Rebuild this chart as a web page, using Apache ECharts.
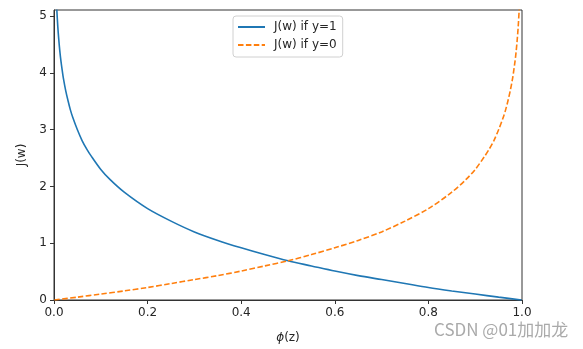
<!DOCTYPE html>
<html><head><meta charset="utf-8">
<script src="https://cdn.jsdelivr.net/npm/echarts@6/dist/echarts.min.js"></script>
<style>html,body{margin:0;padding:0;background:#fff}#c{width:583px;height:349px}</style>
</head><body><div id="c"></div>
<script>
// values
const xPos = [0.006,0.008,0.01,0.0125,0.015,0.0175,0.02,0.025,0.03,0.035,0.04,0.05,0.06,0.07,0.08,0.1,0.12,0.15,0.2,0.25,0.3,0.35,0.4,0.45,0.5,0.55,0.6,0.65,0.7,0.75,0.8,0.85,0.9,0.95,0.999];
const jPos = [5.12,4.83,4.61,4.38,4.20,4.05,3.91,3.69,3.51,3.35,3.22,3.00,2.81,2.66,2.53,2.30,2.12,1.90,1.61,1.39,1.20,1.05,0.92,0.80,0.69,0.60,0.51,0.43,0.36,0.29,0.22,0.16,0.105,0.05,0.001];
const xNeg = [0.001,0.05,0.1,0.15,0.2,0.25,0.3,0.35,0.4,0.45,0.5,0.55,0.6,0.65,0.7,0.75,0.8,0.85,0.88,0.9,0.92,0.93,0.94,0.95,0.96,0.965,0.97,0.975,0.98,0.9825,0.985,0.9875,0.99,0.992,0.994];
const jNeg = [0.001,0.05,0.105,0.16,0.22,0.29,0.36,0.43,0.51,0.60,0.69,0.80,0.92,1.05,1.20,1.39,1.61,1.90,2.12,2.30,2.53,2.66,2.81,3.00,3.22,3.35,3.51,3.69,3.91,4.05,4.20,4.38,4.61,4.83,5.12];
const seriesNames = ['J(w) if y=1','J(w) if y=0'];
const xTicks = [0,0.2,0.4,0.6,0.8,1.0];
const yTicks = [0,1,2,3,4,5];

const pair = (xs, ys) => xs.map((x,i)=>[x, ys[i]]);
const font = 'DejaVu Sans';
const tc = '#262626';
const chart = echarts.init(document.getElementById('c'));
chart.setOption({
  animation:false,
  grid:{left:54,right:61,top:10,bottom:49,show:true,borderColor:'#333',borderWidth:1,backgroundColor:'transparent'},
  legend:{
    orient:'vertical',left:233,top:16,
    data:seriesNames,
    itemWidth:27,itemHeight:12,itemGap:6,
    padding:[5,6,6,4],
    borderColor:'#d0d0d0',borderWidth:1,borderRadius:3,
    itemStyle:{opacity:0},
    textStyle:{fontFamily:font,fontSize:12,color:tc,padding:[0,0,0,4]}
  },
  xAxis:{
    type:'value',min:0,max:1,interval:0.2,
    name:'{i|ϕ}(z)',nameLocation:'middle',nameGap:32,
    nameTextStyle:{fontFamily:font,fontSize:12,color:tc,rich:{i:{fontFamily:font,fontSize:12,fontStyle:'italic',color:tc}}},
    axisLine:{show:true,lineStyle:{color:'#333'}},
    axisTick:{show:true,length:4,lineStyle:{color:'#333'}},
    axisLabel:{fontFamily:font,fontSize:12,color:tc,margin:7,formatter:v=>v.toFixed(1)},
    splitLine:{show:false}
  },
  yAxis:{
    type:'value',min:0,max:5.11,interval:1,
    name:'J(w)',nameLocation:'middle',nameGap:26,
    nameTextStyle:{fontFamily:font,fontSize:12,color:tc},
    axisLine:{show:true,lineStyle:{color:'#333'}},
    axisTick:{show:true,length:4,lineStyle:{color:'#333'}},
    axisLabel:{fontFamily:font,fontSize:12,color:tc,margin:7,showMaxLabel:false,
      formatter:v=>yTicks.includes(Math.round(v*100)/100)?String(v):''},
    splitLine:{show:false}
  },
  series:[
    {name:seriesNames[0],type:'line',data:pair(xPos,jPos),symbol:'none',smooth:0.3,clip:true,
     lineStyle:{color:'#1f77b4',width:1.6},itemStyle:{color:'#1f77b4'}},
    {name:seriesNames[1],type:'line',data:pair(xNeg,jNeg),symbol:'none',smooth:0.3,clip:true,
     lineStyle:{color:'#ff7f0e',width:1.6,type:[5.5,2.4]},itemStyle:{color:'#ff7f0e'}}
  ],
  graphic:[{type:'text',left:434,top:321,style:{text:'CSDN @01加加龙',fontFamily:'Noto Sans CJK SC',fontSize:17,fill:'#aaaaaa'}}]
});
</script></body></html>
